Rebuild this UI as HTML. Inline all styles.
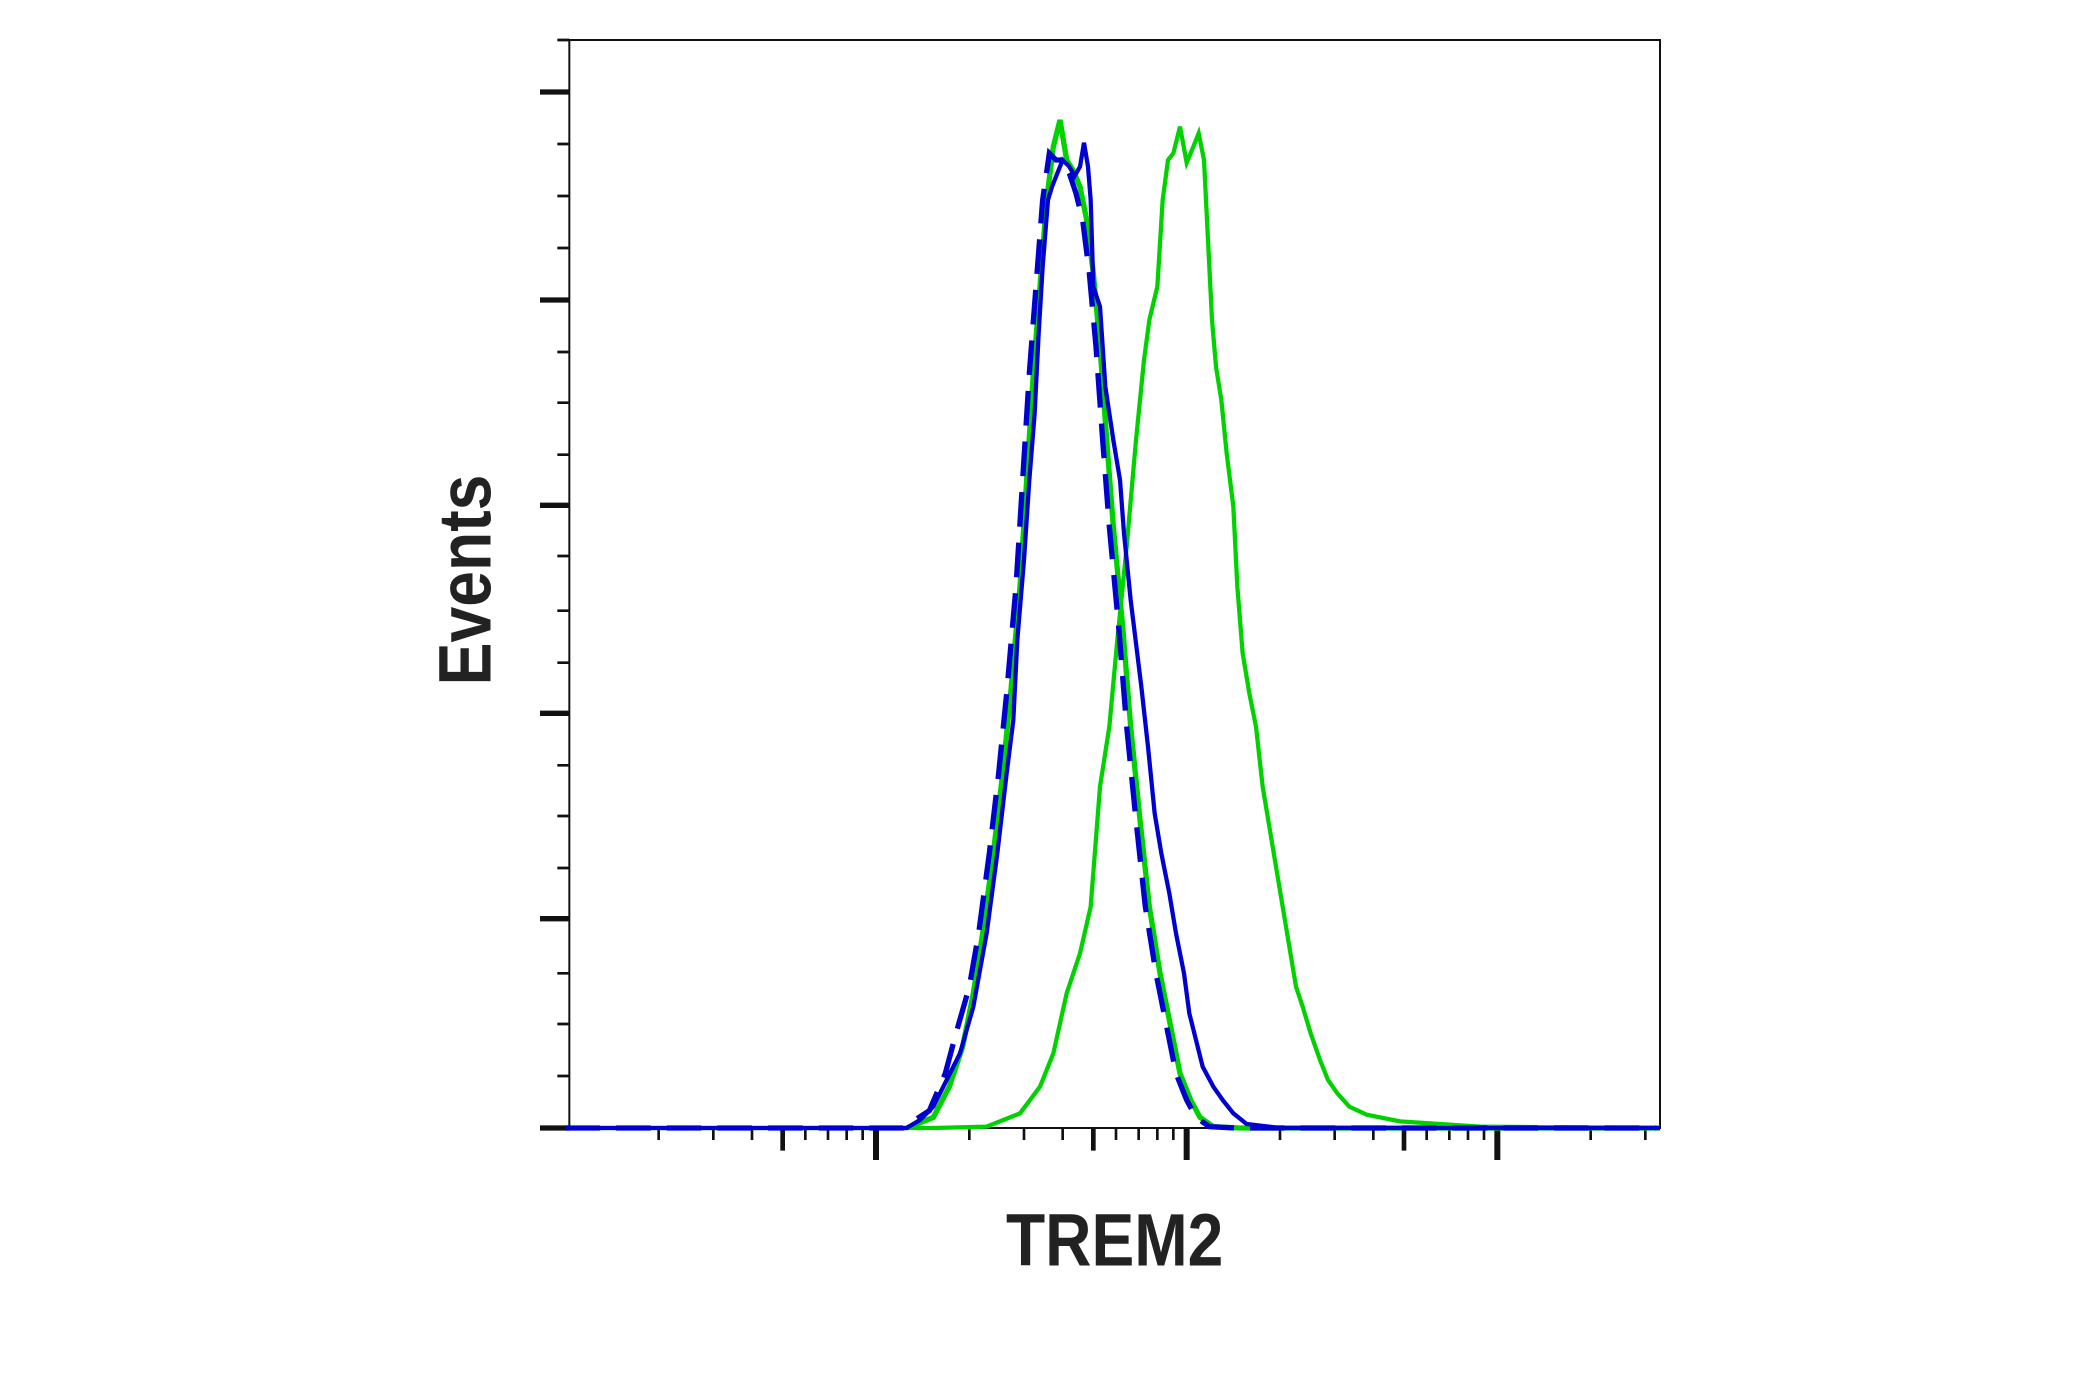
<!DOCTYPE html>
<html><head><meta charset="utf-8"><style>
html,body{margin:0;padding:0;background:#fff;}
svg{display:block;}
</style></head><body>
<svg width="2080" height="1400" viewBox="0 0 1560 1050" xmlns="http://www.w3.org/2000/svg">
<rect width="1560" height="1050" fill="#fff"/>
<g stroke="#111" fill="none">
<rect x="427" y="30" width="818" height="816" stroke-width="1.5"/>
<g stroke-width="2">
<path d="M418 30H427M418 108H427M418 147H427M418 186H427M418 264H427M418 302H427M418 341H427M418 417H427M418 458H427M418 497H427M418 574H427M418 612H427M418 651H427M418 730H427M418 768H427M418 807H427"/>
</g>
<g stroke-width="4">
<path d="M405 69H427M405 225H427M405 379H427M405 535H427M405 689H427M405 846H427"/>
</g>
<g stroke-width="2">
<path d="M494 846V855M535 846V855M564 846V855M604 846V855M621 846V855M635 846V855M647 846V855M727 846V855M768 846V855M797 846V855M837 846V855M854 846V855M868 846V855M880 846V855M960 846V855M1001 846V855M1030 846V855M1070 846V855M1087 846V855M1101 846V855M1113 846V855M1193 846V855M1234 846V855"/>
</g>
<g stroke-width="3.5"><path d="M587 846V863M820 846V863M1053 846V863"/></g>
<g stroke-width="4.5"><path d="M657 846V870M890 846V870M1123 846V870"/></g>
</g>
<path fill="none" stroke="#00d200" stroke-width="3.2" d="M427 846L700 846L740 845L765 835L780 815L790 790L800 745L810 715L818 680L825 590L832 545L838 480L845 410L852 330L858 270L862 240L868 215L872 150L876 120L880 115L885 95L890 122L895 110L899 100L903 120L906 180L909 240L912 275L916 300L920 340L925 380L928 440L932 490L937 520L942 545L947 590L952 620L957 650L962 680L967 710L972 740L977 755L983 775L990 795L996 810L1003 820L1012 830L1025 836L1050 841L1110 845L1245 846"/>
<path fill="none" stroke="#00d200" stroke-width="4" d="M680 846L700 838L712 815L722 785L730 745L737 700L745 640L752 580L758 520L765 440L770 360L775 280L780 215L785 150L790 110L795 90L800 120L805 128L810 140L815 165L820 205L825 260L830 330L835 395L842 470L848 545L855 615L862 680L870 730L878 770L885 805L893 825L900 838L910 845L930 846L1245 846"/>
<path fill="none" stroke="#0000d0" stroke-width="4" stroke-dasharray="26 12" transform="translate(-3,0)" d="M427 846L680 846L700 833L712 805L720 775L730 740L737 700L745 640L752 580L758 520L765 440L770 360L775 280L780 215L785 150L790 115L795 120L800 120L805 130L810 145L815 165L820 205L825 260L830 330L835 395L842 470L848 545L855 615L862 680L870 730L878 770L885 805L893 825L900 838L910 845L930 846L1245 846"/>
<path fill="none" stroke="#0000d0" stroke-width="3.2" d="M427 846L680 846L690 840L700 830L710 810L720 790L730 755L740 700L748 640L755 580L760 540L763 480L768 420L772 360L776 310L779 250L782 200L786 150L789 140L793 130L797 120L802 125L806 132L810 125L813 107L816 125L818 150L820 215L825 230L829 290L835 330L840 360L843 400L848 450L856 515L861 560L866 610L871 640L877 670L882 700L888 730L892 760L897 780L902 800L910 815L917 825L925 835L935 843L960 846L1245 846"/>
<text x="836" y="949" text-anchor="middle" font-family="'Liberation Sans Narrow','Liberation Sans',sans-serif" font-weight="bold" font-size="56" fill="#222" textLength="163" lengthAdjust="spacingAndGlyphs">TREM2</text>
<text transform="translate(368,435) rotate(-90)" text-anchor="middle" font-family="'Liberation Sans Narrow','Liberation Sans',sans-serif" font-weight="bold" font-size="56" fill="#222" textLength="158" lengthAdjust="spacingAndGlyphs">Events</text>
</svg>
</body></html>
